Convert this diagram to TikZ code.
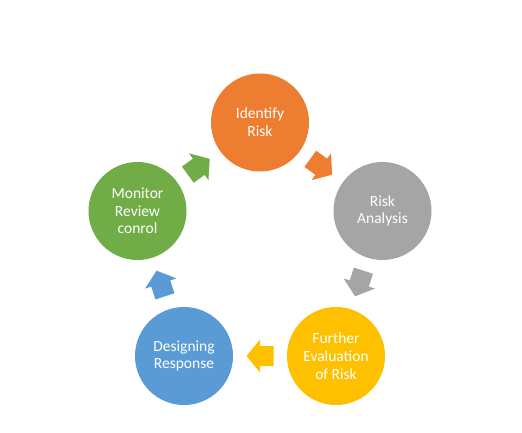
\documentclass[tikz,border=0pt]{standalone}
\usepackage{fontspec}
\setmainfont{Carlito}
\usetikzlibrary{calc}
\definecolor{corange}{HTML}{ED7D31}
\definecolor{cgray}{HTML}{A5A5A5}
\definecolor{cyellow}{HTML}{FFC000}
\definecolor{cblue}{HTML}{5B9BD5}
\definecolor{cgreen}{HTML}{70AD47}
\tikzset{
  stage/.style={circle, minimum size=98pt, inner sep=0pt, text=white, align=center,
    font=\fontsize{15.5}{17.7}\selectfont},
  pics/cycarrow/.style={code={
    \fill[#1] (-13.5,-10) -- (0,-10) -- (0,-16.5) -- (13.5,0) -- (0,16.5) -- (0,10) -- (-13.5,10) -- cycle;}}
}
\begin{document}
\begin{tikzpicture}[x=1pt,y=1pt]
\useasboundingbox[fill=white] (0,0) rectangle (522,432);
\node[stage, fill=corange] (id) at (260,309.5) {Identify\\Risk};
\node[stage, fill=cgray] (ra) at (382.5,221) {Risk\\Analysis};
\node[stage, fill=cyellow] (fe) at (336,76) {Further\\Evaluation\\of Risk};
\node[stage, fill=cblue] (dr) at (184,76) {Designing\\Response};
\node[stage, fill=cgreen] (mr) at (137.5,221) {Monitor\\Review\\conrol};
\pic[rotate=-36] at ($(id)!0.5!(ra)$) {cycarrow=corange};
\pic[rotate=-108] at ($(ra)!0.5!(fe)$) {cycarrow=cgray};
\pic[rotate=180] at ($(fe)!0.5!(dr)$) {cycarrow=cyellow};
\pic[rotate=108] at ($(dr)!0.5!(mr)$) {cycarrow=cblue};
\pic[rotate=36] at ($(mr)!0.5!(id)$) {cycarrow=cgreen};
\end{tikzpicture}
\end{document}
